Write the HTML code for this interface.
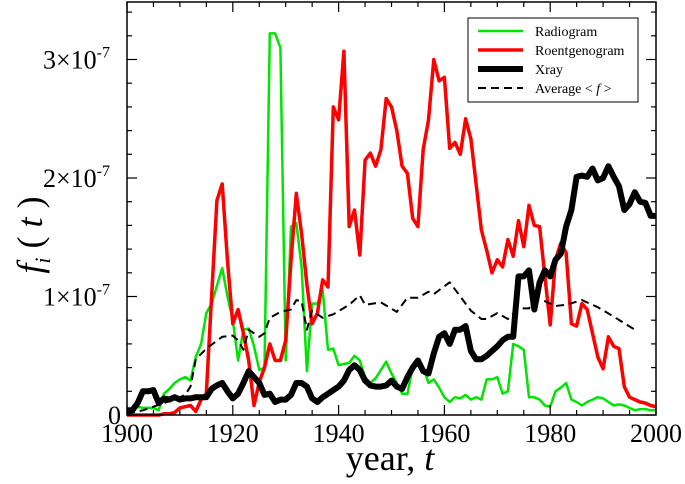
<!DOCTYPE html>
<html><head><meta charset="utf-8"><style>
html,body{margin:0;padding:0;background:#fff;}
svg text{font-family:"Liberation Serif",serif;fill:#000;}
</style></head><body>
<svg id="chart" width="685" height="479" viewBox="0 0 685 479" xmlns="http://www.w3.org/2000/svg">
<g id="grid"></g>
<g id="series"></g>
<rect x="127" y="2" width="529" height="413" fill="none" stroke="#000" stroke-width="1.5"/>
<g id="ticks"></g>
<text x="390" y="470" font-size="36" text-anchor="middle">year, <tspan font-style="italic">t</tspan></text>
<text transform="translate(42,235) rotate(-90)" font-size="36" text-anchor="middle"><tspan font-style="italic">f</tspan><tspan font-size="22" font-style="italic" dy="8">i</tspan><tspan dy="-8"> ( </tspan><tspan font-style="italic">t</tspan> )</text>
<g>
<rect x="468" y="18" width="170" height="84" fill="#fff" stroke="#000" stroke-width="1"/>
<line x1="478" y1="31" x2="523" y2="31" stroke="#00e400" stroke-width="2.5"/>
<text x="535" y="36" font-size="14">Radiogram</text>
<line x1="478" y1="50" x2="523" y2="50" stroke="#ff0000" stroke-width="3.5"/>
<text x="535" y="55" font-size="14">Roentgenogram</text>
<line x1="478" y1="69" x2="523" y2="69" stroke="#000" stroke-width="6"/>
<text x="535" y="74" font-size="14">Xray</text>
<line x1="478" y1="88" x2="523" y2="88" stroke="#000" stroke-width="2" stroke-dasharray="8,5"/>
<text x="535" y="93" font-size="14">Average &lt; <tspan font-style="italic">f</tspan> &gt;</text>
</g>
</svg>
<script>
const years = Array.from({length:101},(_,i)=>1900+i);
const radiogram = [0.1,0.4,0.7,0.6,0.6,0.6,0.4,1.8,2.2,2.7,3,3.2,2.9,4.9,6,8.6,9.4,10.9,12.4,10,8,4.6,7.2,7.3,5.8,3.8,4,32.2,32.2,31,4.6,15.9,16.2,12.5,3.7,9.4,9.4,10.5,5.5,5.6,4.2,4.3,4.4,5,4.6,3.2,2.7,3.1,3.8,4.5,3.5,2.7,1.8,1.8,4,4.2,4,2.7,3,2.3,1.5,1.1,1.5,1.4,1.7,1.3,1.5,1.3,3,3,3.2,1.8,2,6,5.8,5.5,1.5,1.5,1.3,0.8,0.7,2,2.3,2.7,1.3,1.1,0.8,1.1,1.3,1.5,1.4,1.1,0.8,0.9,0.8,0.6,0.4,0.5,0.5,0.4,0.4];
const roentgenogram = [0,0,0,0,0,0,0,0.1,0.1,0.2,0.6,0.7,0.8,0.3,1.3,1.8,10,18.1,19.5,13,7.7,8.9,6.9,4.6,0.8,2.8,4,6,4.6,4.6,6.3,13,18.7,15.3,11,7.7,8.6,11.4,10.8,26,24.9,30.7,15.9,17.3,13.5,21.5,22.1,21,22.4,26.7,26,24,21,20.4,16.6,15.9,22.4,24.9,30,28.2,28.5,22.5,23,22,25,23.3,19.5,15.6,13.9,12,13.1,12.5,14.8,13.4,16.4,14.2,17.7,16,15.9,11.7,7.6,13.1,14.5,13.7,7.7,7.5,9.4,8.9,6.9,4.9,3.9,6.6,5.8,5.6,2.4,1.5,1.3,1.1,1.0,0.8,0.7];
const xray = [0.4,0.4,1,2,2,2.1,1,1.4,1.3,1.5,1.3,1.4,1.4,1.5,1.5,1.5,2.2,2.5,2.7,2,1.4,1.8,2.7,3.7,3.2,2.7,1.7,1.8,1.1,1.3,1.3,1.7,2.7,2.7,2.4,1.4,1.1,1.5,1.8,2.1,2.4,2.9,3.8,4.2,3.8,2.9,2.5,2.4,2.4,2.5,2.9,2.4,2.2,3.2,4,4.6,3.7,3.5,5.2,6.6,6.9,6,7.2,7.2,7.5,5.4,4.7,4.7,5,5.4,5.8,6.3,6.6,6.6,11.7,11.7,12.2,8.9,11.2,12.2,11.7,13.1,13.6,15.9,17.3,20.1,20.2,20.1,20.8,19.8,20,21,20.1,19.3,17.3,17.8,18.8,18,17.9,16.8,16.8];
const avgYears = [1900,1903,1905,1907,1909,1911,1912,1913,1915,1918,1920,1921,1922,1923,1925,1926,1927,1929,1931,1932,1933,1934,1935,1937,1939,1942,1944,1945,1948,1951,1953,1955,1957,1958,1961,1963,1965,1967,1968,1970,1972,1974,1976,1977,1979,1981,1983,1986,1989,1992,1996];
const average = [0.1,0.4,0.7,1,1.3,1.7,2.4,4.7,5.6,6.6,6.7,6.3,5.5,7.2,6.6,6.9,8.2,8.7,8.9,9.7,9.6,7.2,8.8,8.2,8.5,9.3,10.1,9.3,9.5,8.7,9.9,9.9,10.4,10.2,11.2,10,8.8,8.1,8.1,8.6,8.1,9,9,9.7,9.6,9.2,9.3,9.7,9.1,8.3,7.2];
const xTickYears = [1900,1920,1940,1960,1980,2000];
const yTickValues = [0,10,20,30];
const yTickLabels = ["0","1\u00d710","2\u00d710","3\u00d710"];

const NS="http://www.w3.org/2000/svg";
const X0=127,X1=656,Y0=415,Y1=2;
function xs(yr){return X0+(yr-1900)*(X1-X0)/100;}
function ys(v){return Y0-v*11.85;}
function mk(tag,attrs,parent){const e=document.createElementNS(NS,tag);for(const k in attrs)e.setAttribute(k,attrs[k]);parent.appendChild(e);return e;}
const ser=document.getElementById('series');
function line(xv,yv,color,w,dash,name){
  const pts=xv.map((x,i)=>xs(x).toFixed(1)+','+ys(yv[i]).toFixed(1)).join(' ');
  const p=mk('polyline',{points:pts,fill:'none',stroke:color,'stroke-width':w,'stroke-linejoin':'round'},ser);
  if(dash)p.setAttribute('stroke-dasharray',dash);
  
  
}
line(years,radiogram,'#00e400',2.5,null,'radiogram-line');
line(years,roentgenogram,'#ff0000',3.5,null,'roentgenogram-line');
line(avgYears,average,'#000',2,'8,5','average-line');
line(years,xray,'#000',6,null,'xray-line');

const tk=document.getElementById('ticks');
for(let yr=1900;yr<=2000;yr+=5){
  const major=yr%20===0, L=major?10:5, x=xs(yr);
  mk('line',{x1:x,y1:Y0,x2:x,y2:Y0-L,stroke:'#000','stroke-width':1.2},tk);
  mk('line',{x1:x,y1:Y1,x2:x,y2:Y1+L,stroke:'#000','stroke-width':1.2},tk);
}
for(let v=0;v<=34;v+=2){
  const major=v%10===0, L=major?10:5, y=ys(v);
  mk('line',{x1:X0,y1:y,x2:X0+L,y2:y,stroke:'#000','stroke-width':1.2},tk);
  mk('line',{x1:X1,y1:y,x2:X1-L,y2:y,stroke:'#000','stroke-width':1.2},tk);
}
xTickYears.forEach(yr=>{
  const t=mk('text',{x:xs(yr),y:442,'font-size':26,'text-anchor':'middle'},tk);
  t.textContent=yr;
  
  
});
yTickValues.forEach((v,i)=>{
  const t=mk('text',{x:i===0?121:110,y:ys(v)+9,'font-size':26,'text-anchor':'end'},tk);
  t.textContent=yTickLabels[i];
  if(i>0){const s=mk('tspan',{'font-size':16,dy:-11},t);s.textContent='-7';}
  
  
});
</script>
</body></html>
